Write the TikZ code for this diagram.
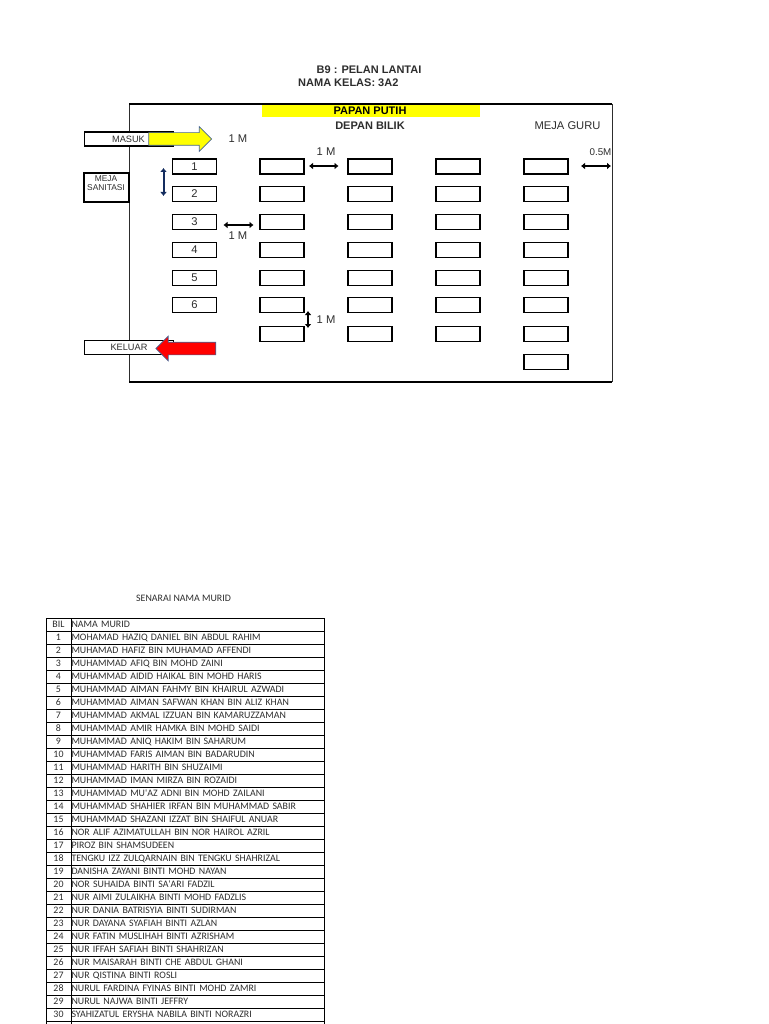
\documentclass[tikz,border=0pt]{standalone}
\usepackage{fontspec}
\setmainfont{Liberation Sans}
\newfontfamily\listfont{Carlito}
\usetikzlibrary{shapes.arrows, arrows.meta, positioning}
\definecolor{inkgrey}{RGB}{45, 45, 45}
\definecolor{boardyellow}{RGB}{255, 255, 0}
\definecolor{arrowedge}{RGB}{70, 100, 150}
\definecolor{navyarrow}{RGB}{20, 45, 95}
\tikzset{
  desk/.style={draw=black, line width=1.2pt, minimum width=44pt, minimum height=15pt, inner sep=0pt, font=\fontsize{11.2}{12}\selectfont, text=inkgrey},
  labelbox/.style={draw=black, fill=white, line width=1.2pt, minimum width=89pt, minimum height=14pt, inner sep=0pt, font=\fontsize{9.2}{10}\selectfont, text=inkgrey},
  gaplabel/.style={font=\fontsize{11.2}{12}\selectfont, text=inkgrey, inner sep=0pt},
  gaparrow/.style={{Latex[length=4pt,width=7pt]}-{Latex[length=4pt,width=7pt]}, line width=2pt},
  cellbox/.style={draw=black, line width=0.6pt, minimum height=13pt, inner sep=0pt, outer sep=0pt, font=\listfont\fontsize{9.9}{10}\selectfont, text=inkgrey},
  titletext/.style={font=\bfseries\fontsize{11}{12}\selectfont, text=inkgrey, inner sep=0pt},
  doorarrow/.style={single arrow, draw=arrowedge, line width=0.7pt, single arrow head extend=6pt, single arrow head indent=0pt, inner sep=0pt}
}
\begin{document}
\begin{tikzpicture}[x=1pt, y=1pt]
  \useasboundingbox (0, 0) rectangle (768, -1024);

  % Titles
  \node[titletext] (title) at (369, -69.7) {B9 : PELAN LANTAI};
  \node[titletext, anchor=west] (kelas) at (298, -82.5) {NAMA KELAS: 3A2};

  % Room
  \node[draw=none, fill=boardyellow, minimum width=218pt, minimum height=12pt, inner sep=0pt] (papan) at (370.5, -111) {};
  \draw[line width=0.9pt, draw=inkgrey] (129, -382) -- (129, -104);
  \draw[line width=1.3pt] (129, -104) -- (612, -104);
  \draw[line width=0.7pt, draw=inkgrey] (612, -104) -- (612, -382);
  \draw[line width=1.3pt] (129, -382) -- (612, -382);
  \node[titletext, text=black] (papantext) at (370, -110.8) {PAPAN PUTIH};
  \node[titletext] (depan) at (370, -125.6) {DEPAN BILIK};
  \node[font=\fontsize{11.2}{12}\selectfont, text=inkgrey, inner sep=0pt] (guru) at (567.5, -125.6) {MEJA GURU};

  % Labels on the room wall
  \node[labelbox] (masuk) at (129, -139) {\hspace*{-1pt}MASUK};
  \node[labelbox, minimum width=45pt, minimum height=29pt] (sanitasi) at (106.5, -187.5) {};
  \node[font=\fontsize{8.4}{9}\selectfont, text=inkgrey, inner sep=0pt, align=center] (sanitasitext) at (106, -183.5) {MEJA\\SANITASI};
  \node[labelbox] (keluar) at (129, -347.5) {KELUAR};

  % Desks
  \foreach \rowy/\num in {166.5/1, 194/2, 222/3, 250/4, 278/5, 305/6}
    \node[desk] (a\num) at (194.5, -\rowy) {\num};
  \foreach \colx/\col in {282/b, 370/c, 458/d, 546/e}
    \foreach \rowy/\num in {166.5/1, 194/2, 222/3, 250/4, 278/5, 305/6, 334/7}
      \node[desk] (\col\num) at (\colx, -\rowy) {};
  \node[desk] (e8) at (546, -362) {};

  % Door arrows
  \node[doorarrow, fill=boardyellow, minimum height=63pt] (masukarrow) at (177, -139) {\rule{0pt}{12pt}};
  \node[doorarrow, fill=red, minimum height=60pt, shape border rotate=180] (keluararrow) at (189, -348.5) {\rule{0pt}{12pt}};

  % Gap markers
  \coordinate (g1) at (309, -166);
  \coordinate (g2) at (338.5, -166);
  \draw[gaparrow] (g1) -- (g2);
  \coordinate (g3) at (223.5, -225);
  \coordinate (g4) at (253.5, -225);
  \draw[gaparrow] (g3) -- (g4);
  \coordinate (g5) at (581, -166);
  \coordinate (g6) at (611, -166);
  \draw[gaparrow] (g5) -- (g6);
  \coordinate (g7) at (163.5, -168);
  \coordinate (g8) at (163.5, -196);
  \draw[gaparrow, draw=navyarrow] (g7) -- (g8);
  \coordinate (g9) at (308, -311);
  \coordinate (g10) at (308, -328);
  \draw[gaparrow, line width=2.6pt] (g9) -- (g10);

  \node[gaplabel] (m1) at (238, -139) {1 M};
  \node[gaplabel] (m2) at (326, -152) {1 M};
  \node[gaplabel] (m3) at (238, -236) {1 M};
  \node[gaplabel] (m4) at (326, -320) {1 M};
  \node[gaplabel, font=\fontsize{9.8}{10}\selectfont] (m5) at (600.5, -152.5) {0.5M};

  % List of pupils
  \node[font=\listfont\fontsize{9.9}{10}\selectfont, text=inkgrey, inner sep=0pt] (senarai) at (183.5, -598.5) {SENARAI NAMA MURID};
  \node[cellbox, minimum width=25pt] (bil0) at (58.5, -624.5) {BIL};
  \node[cellbox, minimum width=253pt, text width=252pt, align=left] (nama0) at (197.5, -624.5) {NAMA MURID};
  \foreach \num/\nama [remember=\num as \prev (initially 0)] in {
    1/MOHAMAD HAZIQ DANIEL BIN ABDUL RAHIM,
    2/MUHAMAD HAFIZ BIN MUHAMAD AFFENDI,
    3/MUHAMMAD AFIQ BIN MOHD ZAINI,
    4/MUHAMMAD AIDID HAIKAL BIN MOHD HARIS,
    5/MUHAMMAD AIMAN FAHMY BIN KHAIRUL AZWADI,
    6/MUHAMMAD AIMAN SAFWAN KHAN BIN ALIZ KHAN,
    7/MUHAMMAD AKMAL IZZUAN BIN KAMARUZZAMAN,
    8/MUHAMMAD AMIR HAMKA BIN MOHD SAIDI,
    9/MUHAMMAD ANIQ HAKIM BIN SAHARUM,
    10/MUHAMMAD FARIS AIMAN BIN BADARUDIN,
    11/MUHAMMAD HARITH BIN SHUZAIMI,
    12/MUHAMMAD IMAN MIRZA BIN ROZAIDI,
    13/MUHAMMAD MU'AZ ADNI BIN MOHD ZAILANI,
    14/MUHAMMAD SHAHIER IRFAN BIN MUHAMMAD SABIR,
    15/MUHAMMAD SHAZANI IZZAT BIN SHAIFUL ANUAR,
    16/NOR ALIF AZIMATULLAH BIN NOR HAIROL AZRIL,
    17/PIROZ BIN SHAMSUDEEN,
    18/TENGKU IZZ ZULQARNAIN BIN TENGKU SHAHRIZAL,
    19/DANISHA ZAYANI BINTI MOHD NAYAN,
    20/NOR SUHAIDA BINTI SA'ARI FADZIL,
    21/NUR AIMI ZULAIKHA BINTI MOHD FADZLIS,
    22/NUR DANIA BATRISYIA BINTI SUDIRMAN,
    23/NUR DAYANA SYAFIAH BINTI AZLAN,
    24/NUR FATIN MUSLIHAH BINTI AZRISHAM,
    25/NUR IFFAH SAFIAH BINTI SHAHRIZAN,
    26/NUR MAISARAH BINTI CHE ABDUL GHANI,
    27/NUR QISTINA BINTI ROSLI,
    28/NURUL FARDINA FYINAS BINTI MOHD ZAMRI,
    29/NURUL NAJWA BINTI JEFFRY,
    30/SYAHIZATUL ERYSHA NABILA BINTI NORAZRI}
  {
    \node[cellbox, minimum width=25pt, below=0pt of bil\prev] (bil\num) {\num};
    \node[cellbox, minimum width=253pt, text width=252pt, align=left, below=0pt of nama\prev] (nama\num) {\nama};
  }
  % Row cut off by the page edge
  \coordinate (cut1) at (46, -1024);
  \coordinate (cut2) at (71, -1024);
  \coordinate (cut3) at (324, -1024);
  \draw[line width=0.6pt] (bil30.south west) -- (cut1);
  \draw[line width=0.6pt] (bil30.south east) -- (cut2);
  \draw[line width=0.6pt] (nama30.south east) -- (cut3);
\end{tikzpicture}
\end{document}
